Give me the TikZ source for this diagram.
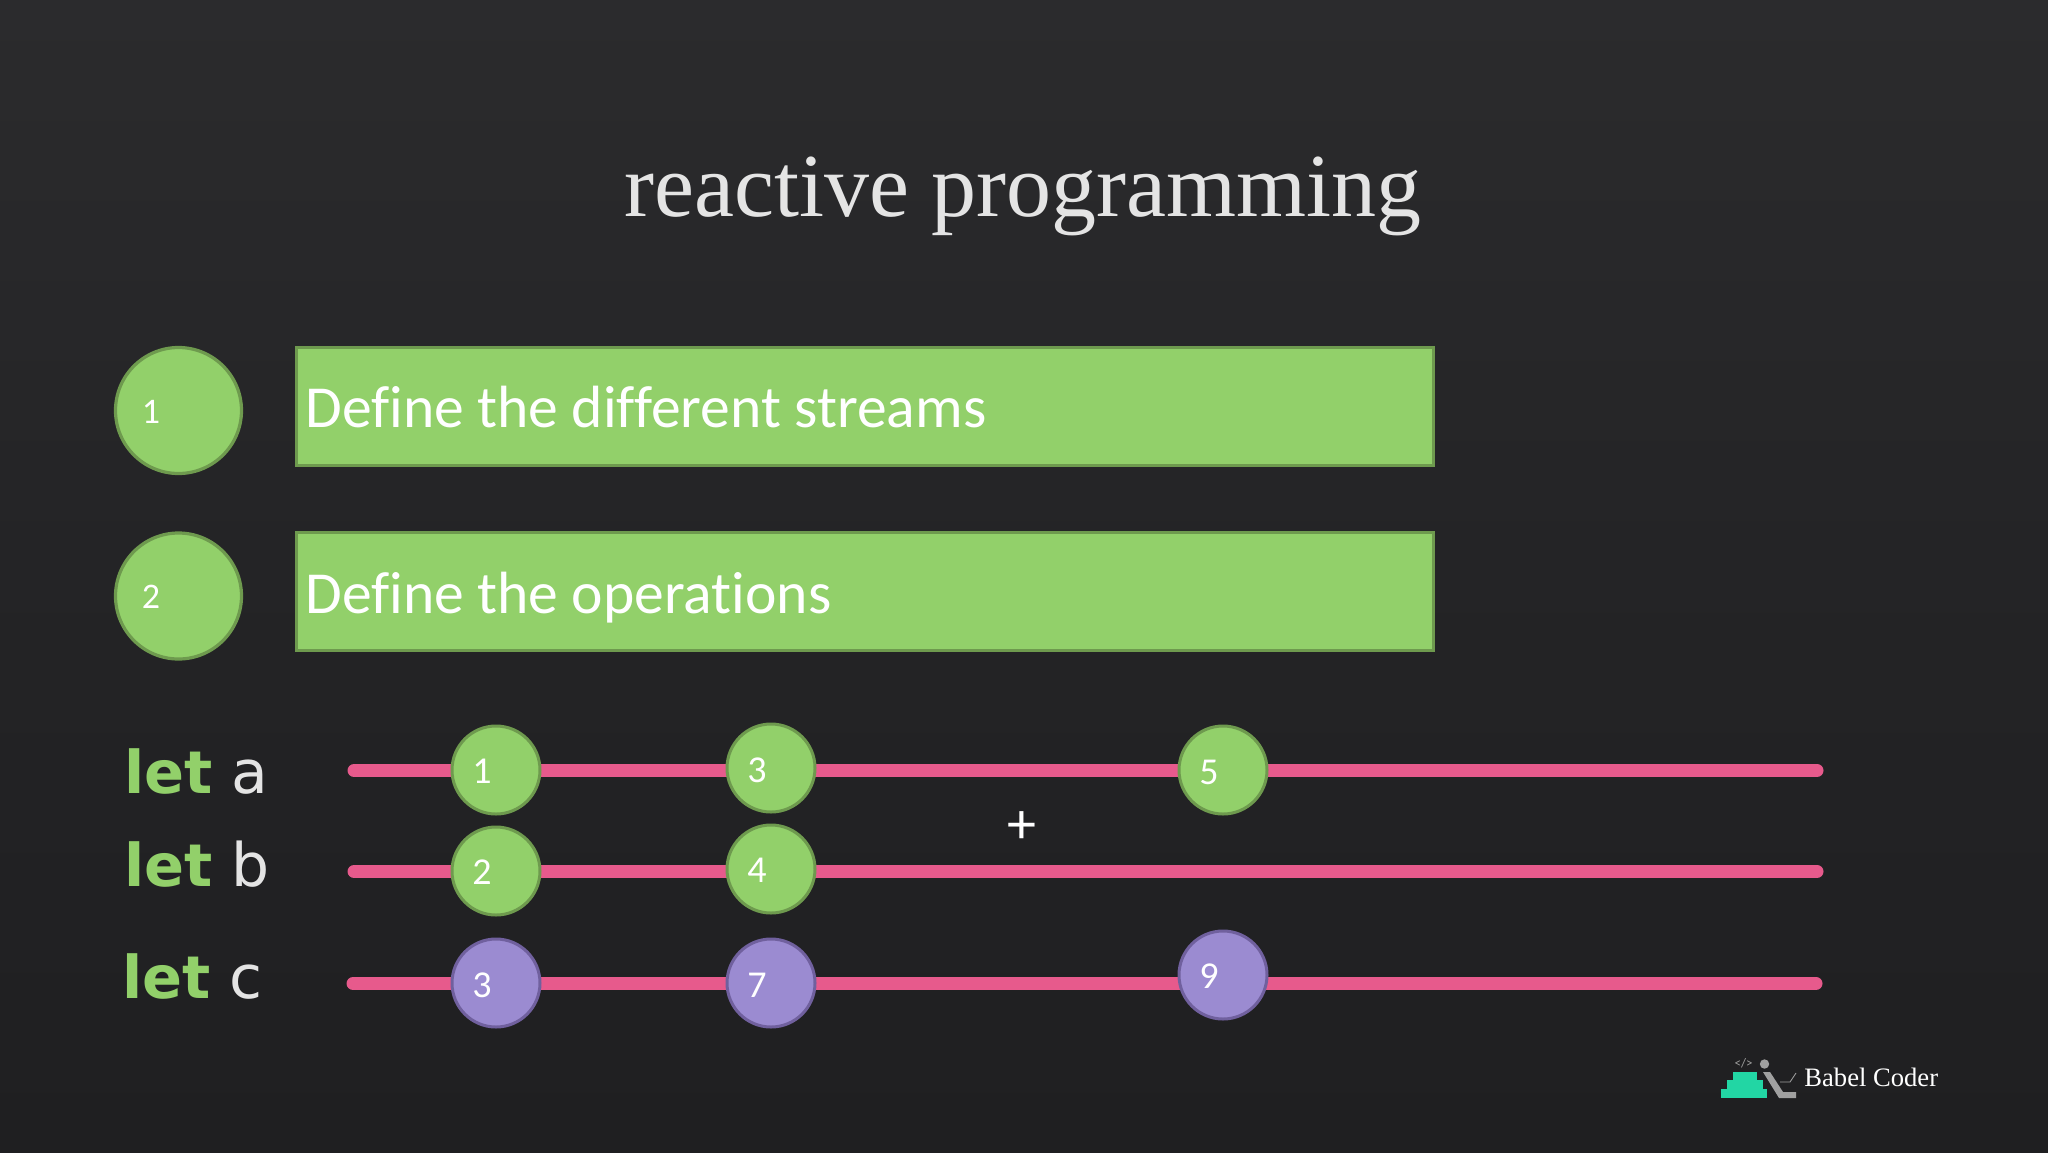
\documentclass[tikz,border=0pt]{standalone}
\usepackage{fontspec}
\setmainfont[Ligatures=NoCommon,Contextuals=NoAlternate]{Carlito}
\newfontfamily\titlefont{Liberation Serif}
\newfontfamily\letfont{DejaVu Sans}
\definecolor{bgtop}{HTML}{2B2B2D}
\definecolor{bgbot}{HTML}{1F1F21}
\definecolor{gfill}{HTML}{92D06A}
\definecolor{gline}{HTML}{6E9A4E}
\definecolor{pfill}{HTML}{9B8BD1}
\definecolor{pline}{HTML}{70609E}
\definecolor{pinkline}{HTML}{E75A8C}
\definecolor{teal}{HTML}{22D6A4}
\definecolor{logogray}{HTML}{A0A0A0}
\definecolor{titlegray}{HTML}{E4E4E4}
\tikzset{
 x=0.5pt,y=-0.5pt,
 bigdot/.style={circle,draw=gline,fill=gfill,line width=1.6pt,minimum size=63pt,inner sep=0pt},
 bar/.style={draw=gline,fill=gfill,line width=1.5pt,minimum width=568.5pt,minimum height=59pt,inner sep=0pt},
 gdot/.style={circle,draw=gline,fill=gfill,line width=1.5pt,minimum size=44pt,inner sep=0pt},
 pdot/.style={circle,draw=pline,fill=pfill,line width=1.5pt,minimum size=44pt,inner sep=0pt},
 track/.style={draw=pinkline,line width=6.5pt,line cap=round},
 num/.style={text=white,font=\fontsize{19}{19}\selectfont,inner sep=0pt},
 bignum/.style={text=white,font=\fontsize{18}{18}\selectfont,inner sep=0pt},
 bartext/.style={text=white,font=\fontsize{29.8}{30}\selectfont,inner sep=0pt,anchor=west},
 lettext/.style={inner sep=0pt,anchor=base west,font=\letfont\fontsize{30}{30}\selectfont},
}
\newcommand{\letword}[1]{{\fontsize{29.5}{30}\selectfont\bfseries\textcolor{gfill}{let}}\hspace{9.5pt}\textcolor{titlegray}{#1}}
\begin{document}
\begin{tikzpicture}
\useasboundingbox (0,0) rectangle (2048,1152);
\shade[top color=bgtop,bottom color=bgbot,middle color=bgbot!60!bgtop] (0,0) rectangle (2048,1152);

\node[inner sep=0pt,text=titlegray,font=\titlefont\fontsize{45}{45}\selectfont] (title) at (1023,196) {reactive programming};

\node[bigdot] (c1) at (178.5,410.5) {};
\node[bigdot] (c2) at (178.5,596) {};
\node[bignum] (n1) at (151,412) {1};
\node[bignum] (n2) at (151,597) {2};
\node[bar] (r1) at (865,406) {};
\node[bar] (r2) at (865,591.5) {};
\node[bartext] (t1) at (305,407) {Define the different streams};
\node[bartext] (t2) at (305,598) {Define the operations};

\node[lettext] (la) at (124,793) {\letword{a}};
\node[lettext] (lb) at (124,886) {\letword{b}};
\node[lettext] (lc) at (122,998) {\letword{c}};

\coordinate (as) at (354,770.5); \coordinate (ae) at (1817,770.5);
\coordinate (bs) at (354,871.5); \coordinate (be) at (1817,871.5);
\coordinate (cs) at (353,983.5); \coordinate (ce) at (1816,983.5);
\draw[track] (as) -- (ae);
\draw[track] (bs) -- (be);
\draw[track] (cs) -- (ce);

\node[gdot] (a1) at (496,770) {};
\node[gdot] (a2) at (771,768) {};
\node[gdot] (a3) at (1223,770) {};
\node[gdot] (b1) at (496,871) {};
\node[gdot] (b2) at (771,869) {};
\node[pdot] (d1) at (496,983) {};
\node[pdot] (d2) at (771,983) {};
\node[pdot] (d3) at (1223,975) {};

\node[num] at (482,771) {1};
\node[num] at (757,770) {3};
\node[num] at (1209,772) {5};
\node[num] at (482,872) {2};
\node[num] at (757,870) {4};
\node[num] at (482,985) {3};
\node[num] at (757,985) {7};
\node[num] at (1209,976) {9};
\node[text=white,inner sep=0pt,font=\fontsize{29}{29}\selectfont] (plus) at (1022,828) {+};

% logo
\fill[teal] (1721,1089) rectangle (1767,1098);
\fill[teal] (1727,1080) rectangle (1763,1089);
\fill[teal] (1733,1072) rectangle (1757,1080);
\fill[logogray] (1764.5,1064) circle[radius=4.7];
\fill[logogray] (1763,1072) -- (1770,1072) -- (1783,1092) -- (1796,1092) -- (1796,1098) -- (1779,1098) -- cycle;
\draw[logogray,line width=0.4pt] (1780,1082) -- (1790,1082) -- (1796,1073);
\node[text=logogray,inner sep=0pt,font=\fontsize{6.5}{7}\selectfont] (code) at (1743.5,1063.5) {</>};
\node[text=white,inner sep=0pt,anchor=west,font=\titlefont\fontsize{13.3}{14}\selectfont] (bc) at (1804,1077.5) {Babel Coder};
\end{tikzpicture}
\end{document}
